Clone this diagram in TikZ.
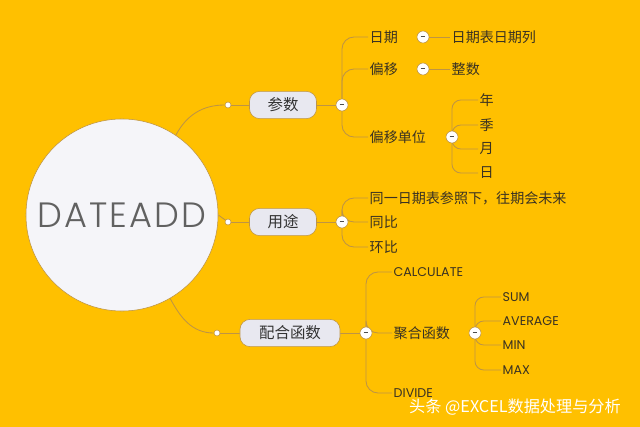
\documentclass[tikz,border=0pt]{standalone}
\usepackage{fontspec}
\setmainfont{Noto Sans CJK SC}
\newfontfamily\geofont{Poppins}
\newfontfamily\geolight{Poppins Light}[LetterSpace=6]
\usetikzlibrary{positioning, backgrounds}
\definecolor{bgyellow}{HTML}{FFC000}
\definecolor{linktan}{HTML}{BE9444}
\definecolor{topicfill}{HTML}{E8E8F0}
\definecolor{rootfill}{HTML}{F5F5F9}
\definecolor{leafink}{HTML}{3A3222}

\tikzset{
    rootnode/.style={circle, draw=linktan, fill=rootfill, minimum size=4.8cm, inner sep=0pt,
        font=\geolight\fontsize{25}{28}\selectfont, text=black!62},
    topic/.style={rectangle, rounded corners=0.25cm, draw=linktan, fill=topicfill,
        minimum width=1.675cm, minimum height=0.68cm, inner sep=1pt,
        font=\fontsize{11}{13}\selectfont, text=black!80},
    knob/.style={circle, draw=linktan, fill=white, minimum size=0.15cm, inner sep=0pt},
    fold/.style={circle, draw=linktan, fill=white, minimum size=0.3cm, inner sep=0pt, text=black!70},
    leaf/.style={anchor=west, inner sep=1pt, font=\fontsize{10}{12}\selectfont, text=leafink},
    latinleaf/.style={leaf, font=\geofont\fontsize{9}{11}\selectfont},
    link/.style={draw=linktan, line width=0.6pt, rounded corners=0.3cm},
    twig/.style={link, rounded corners=0.22cm},
}
\newcommand{\foldmark}{\rule[0.2pt]{3.5pt}{0.8pt}}

\begin{document}
\begin{tikzpicture}[x=0.025cm, y=-0.025cm]
        \useasboundingbox (0,0) rectangle (640,427);

        \node[rootnode] (root) at (122,215) {DATEADD};

        \node[topic] (canshu) at (283,105) {参数};
        \node[topic] (yongtu) at (283,222) {用途};
        \node[topic, minimum width=2.5cm] (peihe) at (290,333) {配合函数};

        \node[knob] (k1) at (228,105) {};
        \node[knob] (k2) at (228,222) {};
        \node[knob] (k3) at (217,333) {};

        \node[fold] (f1) at (342,105) {\foldmark};
        \node[fold] (f2) at (342,222) {\foldmark};
        \node[fold] (f3) at (366,333) {\foldmark};

        % 参数
        \node[leaf] (riqi) at (368,37) {日期};
        \node[leaf] (pianyi) at (368,69) {偏移};
        \node[leaf] (danwei) at (368,137) {偏移单位};
        \node[fold] (f4) at (423,37) {\foldmark};
        \node[fold] (f5) at (423,69) {\foldmark};
        \node[fold] (f6) at (452,137) {\foldmark};
        \node[leaf] (biaolie) at (450,37) {日期表日期列};
        \node[leaf] (zhengshu) at (450,69) {整数};
        \foreach \t/\y [count=\i] in {年/100, 季/125, 月/149, 日/173}
            \node[leaf] (unit\i) at (478,\y) {\t};

        % 用途
        \foreach \t/\y [count=\i] in {同一日期表参照下，往期会未来/198, 同比/222, 环比/247}
            \node[leaf] (use\i) at (368,\y) {\t};

        % 配合函数
        \node[latinleaf] (calc) at (392,272) {CALCULATE};
        \node[leaf] (juhe) at (392,333) {聚合函数};
        \node[latinleaf] (divide) at (392,393) {DIVIDE};
        \node[fold] (f7) at (475,333) {\foldmark};
        \foreach \t/\y [count=\i] in {SUM/297, AVERAGE/321, MIN/345, MAX/370}
            \node[latinleaf] (agg\i) at (501,\y) {\t};

        \node[text=white, font=\fontsize{11.5}{13}\selectfont] (mark) at (515,407) {头条 @EXCEL数据处理与分析};

        \begin{pgfonlayer}{background}
            \fill[bgyellow] (0,0) rectangle (640,427);
            \draw[link] (root.56) to[out=62, in=180] (k1);
            \draw[link] (root.east) -- (k2);
            \draw[link] (root.-60) to[out=-62, in=180] (k3);
            \draw[link] (k1) -- (canshu);
            \draw[link] (k2) -- (yongtu);
            \draw[link] (k3) -- (peihe);
            \draw[link] (canshu) -- (f1);
            \draw[link] (yongtu) -- (f2);
            \draw[link] (peihe) -- (f3);
            \foreach \n in {riqi, pianyi, danwei}
                \draw[link] (f1.center) |- (\n.west);
            \draw[link] (f4) -- (biaolie);
            \draw[link] (f5) -- (zhengshu);
            \foreach \i in {1,...,4}
                \draw[twig] (f6.center) |- (unit\i.west);
            \foreach \i in {1,...,3}
                \draw[link] (f2.center) |- (use\i.west);
            \foreach \n in {calc, juhe, divide}
                \draw[link] (f3.center) |- (\n.west);
            \foreach \i in {1,...,4}
                \draw[twig] (f7.center) |- (agg\i.west);
        \end{pgfonlayer}
    \end{tikzpicture}
\end{document}
